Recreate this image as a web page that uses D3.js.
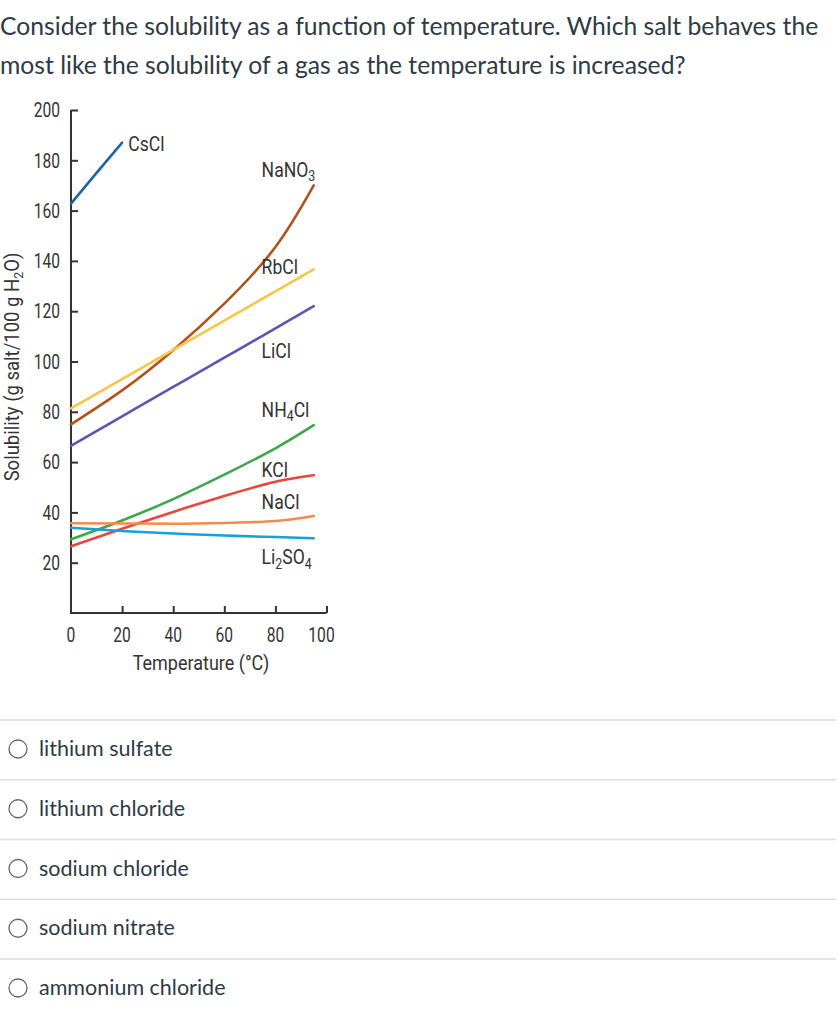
<!DOCTYPE html>
<html>
<head>
<meta charset="utf-8">
<script src="https://cdn.jsdelivr.net/npm/d3@7"></script>
<style>
  html, body { margin: 0; padding: 0; background: #fff; }
  svg { display: block; }
  .q { font-family: Lato, sans-serif; fill: #2d3b45; }
  .chart text { font-family: Roboto, sans-serif; fill: #333; }
</style>
</head>
<body>
<svg id="page" width="839" height="1024"></svg>
<script>
const questionLines = [
  "Consider the solubility as a function of temperature. Which salt behaves the",
  "most like the solubility of a gas as the temperature is increased?"
];
const choices = ["lithium sulfate", "lithium chloride", "sodium chloride", "sodium nitrate", "ammonium chloride"];

const xTicks = [0, 20, 40, 60, 80, 100];
const yTicks = [20, 40, 60, 80, 100, 120, 140, 160, 180, 200];

// temperature (°C) / solubility (g per 100 g water)
const temps = [0, 20, 40, 60, 80, 95];
const csclTemps = [0, 10, 20];
const cscl = [162.8, 175, 187];
const nano3 = [75, 88.5, 104.5, 123, 145.5, 170];
const rbcl = [81.4, 93, 104.6, 116.3, 127.9, 136.6];
const licl = [66.5, 78.2, 89.9, 101.5, 113.2, 122];
const nh4cl = [29.3, 36.8, 45.3, 55, 65.5, 74.7];
const kcl = [26.5, 33.5, 40.2, 46.5, 52.2, 54.8];
const nacl = [35.7, 35.6, 35.5, 35.8, 36.6, 38.6];
const li2so4 = [33.9, 32.6, 31.6, 30.8, 30.2, 29.7];

const series = [
  { name: "CsCl", t: csclTemps, v: cscl, color: "#1f63a5" },
  { name: "NaNO3", t: temps, v: nano3, color: "#b0521c" },
  { name: "RbCl", t: temps, v: rbcl, color: "#f6c644" },
  { name: "LiCl", t: temps, v: licl, color: "#6352b0" },
  { name: "NH4Cl", t: temps, v: nh4cl, color: "#3ba84a" },
  { name: "KCl", t: temps, v: kcl, color: "#e8463a" },
  { name: "NaCl", t: temps, v: nacl, color: "#f38b4c" },
  { name: "Li2SO4", t: temps, v: li2so4, color: "#1b9ede" }
];

// label anchors in data units: [text parts, temperature, solubility]
const labels = [
  [["CsCl"], 22.4, 183.5],
  [["NaNO", "3"], 74.6, 173.5],
  [["RbCl"], 74.6, 134.7],
  [["LiCl"], 74.6, 101.3],
  [["NH", "4", "Cl"], 74.6, 78],
  [["KCl"], 74.6, 54],
  [["NaCl"], 74.6, 41.2],
  [["Li", "2", "SO", "4"], 74.6, 19.3]
];

const svg = d3.select("#page");

// condensed look: squeeze text horizontally
const squeeze = (sel, fx, fy, sx) =>
  sel.attr("transform", (d, i) => `translate(${fx(d, i)},${fy(d, i)}) scale(${sx},1)`);

// question
svg.append("g").selectAll("text")
  .data(questionLines)
  .join("text")
  .attr("class", "q")
  .attr("x", 0)
  .attr("y", (d, i) => 35 + i * 39)
  .style("font-size", "24.7px")
  .text(d => d);

// chart
const x = d3.scaleLinear().domain([0, 100]).range([71, 326.5]);
const y = d3.scaleLinear().domain([0, 200]).range([613, 110]);

const chart = svg.append("g").attr("class", "chart");

const yAxis = chart.append("g")
  .attr("transform", `translate(${x(0)},0)`)
  .call(d3.axisRight(y).tickValues(yTicks).tickSize(7).tickFormat(""));
const xAxis = chart.append("g")
  .attr("transform", `translate(0,${y(0)})`)
  .call(d3.axisTop(x).tickValues(xTicks.slice(1)).tickSize(7).tickFormat(""));
[yAxis, xAxis].forEach(a => {
  a.select(".domain").attr("stroke", "#333").attr("stroke-width", 2);
  a.selectAll(".tick line").attr("stroke", "#333").attr("stroke-width", 2);
});
yAxis.select(".domain").attr("d", `M0,${y(200)}V${y(0) + 1}`);
xAxis.select(".domain").attr("d", `M${x(0) - 1},0H${x(100)}`);

chart.append("g").selectAll("text")
  .data(yTicks)
  .join("text")
  .attr("dy", "0.36em")
  .attr("text-anchor", "end")
  .style("font-size", "20px")
  .text(d => d)
  .call(squeeze, () => 60, d => y(d), 0.78);

chart.append("g").selectAll("text")
  .data(xTicks)
  .join("text")
  .attr("text-anchor", "middle")
  .style("font-size", "20px")
  .text(d => d)
  .call(squeeze, d => x(d) - (d === 100 ? 5 : 0), () => 642, 0.78);

chart.append("text")
  .attr("text-anchor", "middle")
  .style("font-size", "20px")
  .text("Temperature (°C)")
  .call(squeeze, () => 201, () => 670, 0.9);

chart.append("text")
  .attr("transform", "translate(19,367) rotate(-90) scale(0.95,1)")
  .attr("text-anchor", "middle")
  .style("font-size", "19.5px")
  .text("Solubility (g salt/100 g H")
  .call(t => {
    t.append("tspan").attr("dy", 4).style("font-size", "13px").text("2");
    t.append("tspan").attr("dy", -4).text("O)");
  });

const line = d3.line()
  .x(d => x(d[0]))
  .y(d => y(d[1]))
  .curve(d3.curveNatural);

chart.append("g").selectAll("path")
  .data(series)
  .join("path")
  .attr("fill", "none")
  .attr("stroke", d => d.color)
  .attr("stroke-width", 2.6)
  .attr("stroke-linecap", "round")
  .attr("d", d => line(d.t.map((t, i) => [t, d.v[i]])));

const lab = chart.append("g").selectAll("text")
  .data(labels)
  .join("text")
  .style("font-size", "20px")
  .call(squeeze, d => x(d[1]), d => y(d[2]), 0.88);
lab.each(function (d) {
  const t = d3.select(this);
  let sub = false;
  d[0].forEach(part => {
    const isSub = /^\d$/.test(part);
    t.append("tspan")
      .attr("dy", isSub ? 4.5 : (sub ? -4.5 : 0))
      .style("font-size", isSub ? "14px" : null)
      .text(part);
    sub = isSub;
  });
});

// answer choices
const rowY = d3.scaleLinear().domain([0, 4]).range([748, 987]);
const rows = svg.append("g").selectAll("g")
  .data(choices)
  .join("g")
  .attr("transform", (d, i) => `translate(0,${rowY(i)})`);
rows.append("line")
  .attr("x1", 0).attr("x2", 836)
  .attr("y1", -28).attr("y2", -28)
  .attr("stroke", "#dddddd").attr("stroke-width", 1.5);
rows.append("circle")
  .attr("cx", 18).attr("cy", 1).attr("r", 9)
  .attr("fill", "#fff").attr("stroke", "#666").attr("stroke-width", 1.3);
rows.append("text")
  .attr("class", "q")
  .attr("x", 39)
  .attr("y", 8)
  .style("font-size", "21.5px")
  .text(d => d);
</script>
</body>
</html>
